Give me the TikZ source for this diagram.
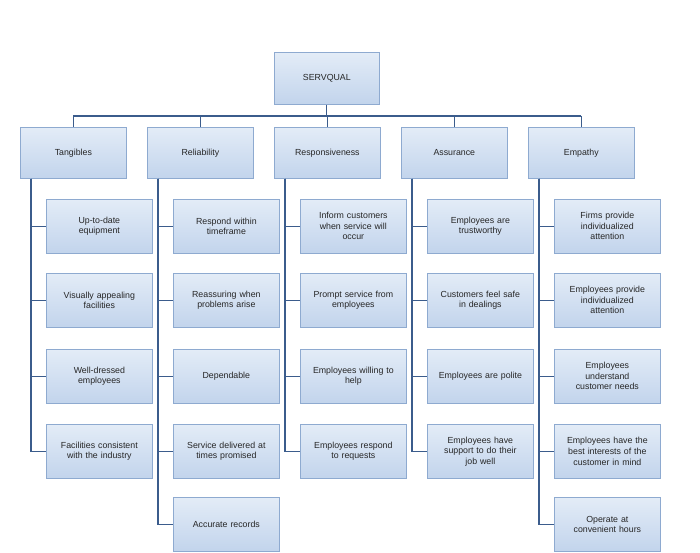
\documentclass[tikz,border=0pt]{standalone}
\usepackage{fontspec}
\setmainfont{Liberation Sans}
\definecolor{bord}{HTML}{8EAAD0}
\definecolor{ftop}{HTML}{E3ECF7}
\definecolor{fbot}{HTML}{C2D4EC}
\definecolor{lnc}{HTML}{3B5C8C}
\begin{document}
\begin{tikzpicture}[x=1pt,y=-1pt,
 bx/.style={draw=bord, top color=ftop, bottom color=fbot,
   minimum width=106pt, minimum height=53pt, align=center, inner sep=1pt, text width=104pt,
   font=\fontsize{8.8}{10.5}\selectfont, text=black!85, anchor=north west, line width=0.7pt},
 ln/.style={draw=lnc, line width=1.1pt}]
\useasboundingbox (0,0) rectangle (700,553);
\fill[white] (0,0) rectangle (700,553);
\node[bx, minimum width=105pt, text width=103pt, minimum height=52pt] (S) at (274,52) {SERVQUAL};
\foreach \n/\x/\t in {A/20/Tangibles,B/147/Reliability,C/274/Responsiveness,D/401/Assurance,E/528/Empathy}
  \node[bx, minimum height=51pt] (\n) at (\x,127) {\t};
\coordinate (h) at (0,116);
\draw[ln] (S.south) -- (S.south |- h);
\draw[ln] (A.north |- h) -- (E.north |- h);
\foreach \n in {A,B,C,D,E} \draw[ln] (\n.north |- h) -- (\n.north);
\def\rowy{{199,273,349,424,497}}
\foreach \n/\x/\items in {
 A/46/{Up-to-date\\equipment,Visually appealing\\facilities,Well-dressed\\employees,Facilities consistent\\with the industry},
 B/173/{Respond within\\timeframe,Reassuring when\\problems arise,Dependable,Service delivered at\\times promised,Accurate records},
 C/300/{Inform customers\\when service will\\occur,Prompt service from\\employees,Employees willing to\\help,Employees respond\\to requests},
 D/427/{Employees are\\trustworthy,Customers feel safe\\in dealings,Employees are polite,Employees have\\support to do their\\job well},
 E/554/{Firms provide\\individualized\\attention,Employees provide\\individualized\\attention,Employees\\understand\\customer needs,Employees have the\\best interests of the\\customer in mind,Operate at\\convenient hours}}{
  \foreach \t [count=\i] in \items {
    \pgfmathsetmacro\yy{\rowy[\i-1]}
    \node[bx, minimum height=54pt] (\n c\i) at (\x,\yy) {\t};
    \coordinate (\n v\i) at ([xshift=11pt]\n.south west);
    \draw[ln] (\n v\i) |- (\n c\i.west);
  }
}
\end{tikzpicture}
\end{document}
